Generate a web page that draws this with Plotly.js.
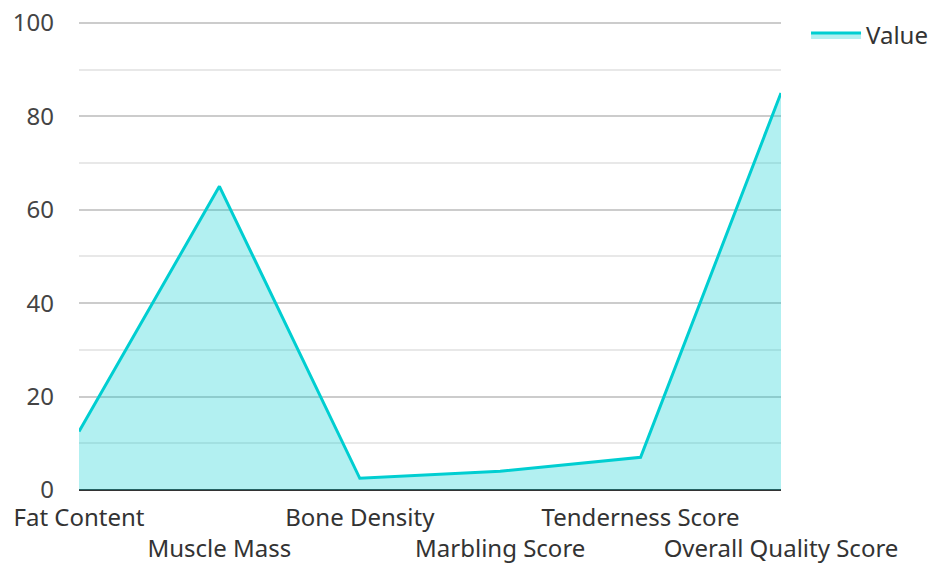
<!DOCTYPE html>
<html>
<head>
<meta charset="utf-8">
<script src="https://cdn.plot.ly/plotly-3.0.1.min.js"></script>
<style>html,body{margin:0;padding:0;background:#fff;}#chart{width:930px;height:564px;}</style>
</head>
<body>
<div id="chart"></div>
<script>
const categories = ["Fat Content", "Muscle Mass", "Bone Density", "Marbling Score", "Tenderness Score", "Overall Quality Score"];
const values = [12.5, 65, 2.5, 4, 7, 85];
const seriesName = "Value";
const yTicks = [0, 20, 40, 60, 80, 100];

const tickText = categories.map((c, i) => (i % 2 === 1 ? "<br>" + c : c));

const trace = {
  x: categories,
  y: values,
  type: "scatter",
  mode: "lines",
  name: seriesName,
  fill: "tozeroy",
  fillcolor: "rgba(0,206,209,0.3)",
  line: { color: "#00CED1", width: 3 }
};

const layout = {
  width: 930,
  height: 564,
  margin: { l: 79, r: 149, t: 21, b: 74 },
  paper_bgcolor: "#fff",
  plot_bgcolor: "#fff",
  font: { family: "Noto Sans, Open Sans, sans-serif", size: 24, color: "#333" },
  showlegend: true,
  legend: {
    xref: "container", yref: "container",
    x: 0.8667, y: 0.977, xanchor: "left", yanchor: "top",
    itemwidth: 50,
    font: { size: 24, color: "#333" }
  },
  xaxis: {
    type: "category",
    range: [0, 5],
    tickmode: "array",
    tickvals: categories,
    ticktext: tickText,
    tickangle: 0,
    showgrid: false,
    showline: false,
    ticks: "",
    ticklabelstandoff: 11,
    automargin: false,
    tickfont: { size: 24, color: "#333" }
  },
  yaxis: {
    range: [0, 100.4],
    tickmode: "array",
    tickvals: yTicks,
    showgrid: true,
    gridcolor: "#cccccc",
    gridwidth: 1.5,
    zeroline: true,
    zerolinecolor: "#333",
    zerolinewidth: 2,
    minor: { dtick: 10, showgrid: true, gridcolor: "#e8e8e8", gridwidth: 1.5 },
    ticks: "",
    ticklabelstandoff: 24,
    automargin: false,
    tickfont: { size: 24, color: "#444" }
  }
};

Plotly.newPlot("chart", [trace], layout, { displayModeBar: false, responsive: false });
</script>
</body>
</html>
